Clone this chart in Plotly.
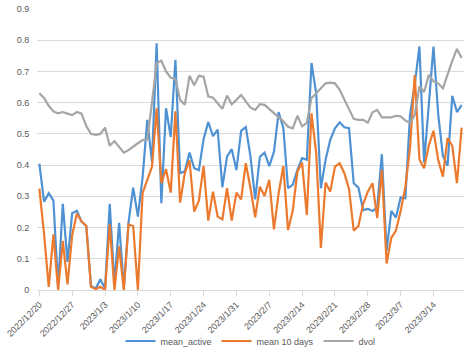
import pandas as pd
import plotly.graph_objects as go

start_date = "2022-12-20"
n_days = 91

mean_active = [
    0.405, 0.283, 0.31, 0.286, 0.01, 0.276, 0.09, 0.246, 0.254, 0.219,
    0.205, 0.013, 0.005, 0.034, 0.005, 0.276, 0.02, 0.215, 0.005, 0.215,
    0.328, 0.235, 0.36, 0.545, 0.41, 0.79, 0.278, 0.582, 0.49, 0.737,
    0.374, 0.38, 0.44, 0.39, 0.384, 0.483, 0.538, 0.493, 0.514, 0.329,
    0.427, 0.451, 0.384, 0.51, 0.522, 0.427, 0.29, 0.427, 0.44, 0.397,
    0.443, 0.57, 0.518, 0.326, 0.337, 0.385, 0.422, 0.417, 0.727, 0.63,
    0.326, 0.417, 0.481, 0.518, 0.537, 0.521, 0.518, 0.342, 0.328, 0.256,
    0.26, 0.253, 0.264, 0.435, 0.125, 0.253, 0.232, 0.296, 0.294, 0.562,
    0.657, 0.78, 0.408, 0.604, 0.78, 0.563, 0.43, 0.398, 0.622, 0.57,
    0.592,
]

mean_10_days = [
    0.325, 0.18, 0.01, 0.178, 0.0, 0.157, 0.018, 0.176, 0.245, 0.219,
    0.206, 0.01, 0.003, 0.01, 0.0, 0.21, 0.0, 0.14, 0.0, 0.21,
    0.205, 0.0, 0.31, 0.355, 0.395, 0.582, 0.342, 0.387, 0.312, 0.572,
    0.28, 0.374, 0.415, 0.251, 0.286, 0.397, 0.222, 0.315, 0.235, 0.226,
    0.326, 0.222, 0.312, 0.29, 0.406, 0.326, 0.233, 0.331, 0.301, 0.353,
    0.194, 0.31, 0.397, 0.192, 0.254, 0.379, 0.408, 0.24, 0.566, 0.438,
    0.135, 0.344, 0.315, 0.395, 0.406, 0.374, 0.323, 0.19, 0.205, 0.275,
    0.315, 0.342, 0.23, 0.385, 0.085, 0.167, 0.19, 0.253, 0.33, 0.455,
    0.688, 0.418, 0.39, 0.463, 0.51, 0.417, 0.363, 0.487, 0.462, 0.342,
    0.52,
]

dvol = [
    0.63, 0.615, 0.59, 0.572, 0.566, 0.57, 0.565, 0.56, 0.57, 0.565,
    0.525, 0.5, 0.497, 0.5, 0.52, 0.462, 0.477, 0.46, 0.44, 0.448,
    0.46, 0.47, 0.48, 0.482, 0.6, 0.727, 0.734, 0.70, 0.68, 0.676,
    0.609, 0.593, 0.686, 0.656, 0.686, 0.683, 0.62, 0.616, 0.598, 0.58,
    0.623, 0.595, 0.609, 0.625, 0.604, 0.584, 0.577, 0.595, 0.593, 0.58,
    0.564, 0.552, 0.54, 0.523, 0.518, 0.558, 0.524, 0.535, 0.615, 0.63,
    0.646, 0.662, 0.664, 0.662, 0.641, 0.609, 0.582, 0.548, 0.545, 0.545,
    0.536, 0.569, 0.577, 0.553, 0.553, 0.553, 0.558, 0.556, 0.543, 0.534,
    0.56, 0.652, 0.634, 0.689, 0.668, 0.662, 0.646, 0.694, 0.734, 0.772,
    0.743,
]

tick_dates = ["2022-12-20", "2022-12-27", "2023-01-03", "2023-01-10", "2023-01-17",
              "2023-01-24", "2023-01-31", "2023-02-07", "2023-02-14", "2023-02-21",
              "2023-02-28", "2023-03-07", "2023-03-14"]
tick_labels = ["2022/12/20", "2022/12/27", "2023/1/3", "2023/1/10", "2023/1/17",
               "2023/1/24", "2023/1/31", "2023/2/7", "2023/2/14", "2023/2/21",
               "2023/2/28", "2023/3/7", "2023/3/14"]

dates = pd.date_range(start_date, periods=n_days, freq="D")

series = [
    ("mean_active", mean_active, "#4f92d3"),
    ("mean 10 days", mean_10_days, "#ec7a2e"),
    ("dvol", dvol, "#a5a5a5"),
]

fig = go.Figure()
for name, vals, color in series:
    fig.add_trace(go.Scatter(x=dates, y=vals, mode="lines", name=name,
                             line=dict(color=color, width=2.2)))

font_family = "Liberation Sans, Arial, sans-serif"
x_start = dates[0] - pd.Timedelta(hours=12)
x_end = dates[-1] + pd.Timedelta(hours=12)

fig.update_layout(
    width=474, height=354,
    margin=dict(l=37, r=10, t=9, b=64, autoexpand=False),
    paper_bgcolor="white", plot_bgcolor="white",
    font=dict(family=font_family, size=9, color="#595959"),
    showlegend=True,
    legend=dict(orientation="h", x=0.5, xanchor="center",
                yref="container", y=13 / 354, yanchor="middle",
                font=dict(size=9, color="#595959"), itemwidth=30,
                tracegroupgap=0, bgcolor="rgba(0,0,0,0)"),
    xaxis=dict(
        type="date", range=[x_start, x_end], automargin=False,
        tickmode="array", tickvals=pd.to_datetime(tick_dates), ticktext=tick_labels,
        tickangle=-45, ticks="outside", ticklen=5, tickcolor="#d9d9d9",
        showline=True, linecolor="#d9d9d9", linewidth=1,
        showgrid=False, zeroline=False,
        tickfont=dict(size=9, color="#595959"),
    ),
    yaxis=dict(
        range=[0, 0.9], dtick=0.1, tick0=0, tickformat="~g", automargin=False,
        showgrid=True, gridcolor="#d9d9d9", gridwidth=1,
        zeroline=False, showline=False,
        ticks="outside", ticklen=5, tickcolor="rgba(0,0,0,0)",
        tickfont=dict(size=9, color="#595959"),
    ),
)

fig.write_html("out.html")
